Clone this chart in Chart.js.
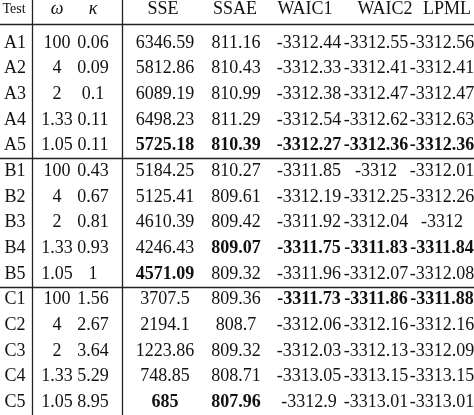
<!DOCTYPE html>
<html><head>
<script src="https://cdn.jsdelivr.net/npm/chart.js@4/dist/chart.umd.min.js"></script>
<style>body{margin:0;background:#fff}#wrap{width:474px;height:415px}</style>
</head><body><div id="wrap"><canvas id="c"></canvas></div>
<script>
const headers = ['Test', 'ω', 'κ', 'SSE', 'SSAE', 'WAIC1', 'WAIC2', 'LPML'];
const tests = ['A1','A2','A3','A4','A5','B1','B2','B3','B4','B5','C1','C2','C3','C4','C5'];
const omega = ['100','4','2','1.33','1.05','100','4','2','1.33','1.05','100','4','2','1.33','1.05'];
const kappa = ['0.06','0.09','0.1','0.11','0.11','0.43','0.67','0.81','0.93','1','1.56','2.67','3.64','5.29','8.95'];
const sse = ['6346.59','5812.86','6089.19','6498.23','5725.18','5184.25','5125.41','4610.39','4246.43','4571.09','3707.5','2194.1','1223.86','748.85','685'];
const ssae = ['811.16','810.43','810.99','811.29','810.39','810.27','809.61','809.42','809.07','809.32','809.36','808.7','809.32','808.71','807.96'];
const waic1 = ['-3312.44','-3312.33','-3312.38','-3312.54','-3312.27','-3311.85','-3312.19','-3311.92','-3311.75','-3311.96','-3311.73','-3312.06','-3312.03','-3313.05','-3312.9'];
const waic2 = ['-3312.55','-3312.41','-3312.47','-3312.62','-3312.36','-3312','-3312.25','-3312.04','-3311.83','-3312.07','-3311.86','-3312.16','-3312.13','-3313.15','-3313.01'];
const lpml = ['-3312.56','-3312.41','-3312.47','-3312.63','-3312.36','-3312.01','-3312.26','-3312','-3311.84','-3312.08','-3311.88','-3312.16','-3312.09','-3313.15','-3313.01'];
const bold = {A5:[3,4,5,6,7], B4:[4,5,6,7], B5:[3], C1:[5,6,7], C5:[3,4]};

const headX = [14, 57, 93, 163, 235, 305, 385, 447];
const colX = [15, 57, 93, 165, 236, 309, 376, 442];
const columns = [tests, omega, kappa, sse, ssae, waic1, waic2, lpml];

const tablePlugin = {
  id: 'table',
  afterDraw(chart) {
    const ctx = chart.ctx, xs = chart.scales.x, ys = chart.scales.y;
    ctx.save();
    ctx.fillStyle = '#111';
    ctx.textAlign = 'center';
    ctx.textBaseline = 'middle';
    const hy = ys.getPixelForValue(-1.3);
    headers.forEach((h, j) => {
      ctx.font = (j === 1 || j === 2 ? 'italic ' : '') + (j === 0 ? '14px' : '18px') + ' "Liberation Serif"';
      ctx.fillText(h, xs.getPixelForValue(headX[j]), hy);
    });
    tests.forEach((t, i) => {
      const y = ys.getPixelForValue(i);
      columns.forEach((col, j) => {
        const b = bold[t] && bold[t].includes(j);
        ctx.font = (b ? 'bold ' : '') + '18px "Liberation Serif"';
        ctx.fillText(col[i], xs.getPixelForValue(colX[j]), y);
      });
    });
    ctx.strokeStyle = '#222';
    ctx.lineWidth = 1.3;
    const hline = v => {
      const y = Math.round(ys.getPixelForValue(v)) + 0.5;
      ctx.beginPath(); ctx.moveTo(xs.left, y); ctx.lineTo(xs.right, y); ctx.stroke();
    };
    hline(-0.76); hline(4.5); hline(9.5);
    [32, 122].forEach(x => {
      const px = Math.round(xs.getPixelForValue(x)) + 0.5;
      ctx.beginPath(); ctx.moveTo(px, ys.top); ctx.lineTo(px, ys.bottom); ctx.stroke();
    });
    ctx.restore();
  }
};

new Chart(document.getElementById('c'), {
  type: 'scatter',
  data: { datasets: [{ data: [] }] },
  options: {
    responsive: true, maintainAspectRatio: false, animation: false,
    layout: { padding: 0 },
    plugins: { legend: { display: false }, tooltip: { enabled: false } },
    scales: {
      x: { type: 'linear', min: 0, max: 474, display: false },
      y: { type: 'linear', min: -1.676, max: 14.5, reverse: true, display: false }
    }
  },
  plugins: [tablePlugin]
});
</script>
</body></html>
